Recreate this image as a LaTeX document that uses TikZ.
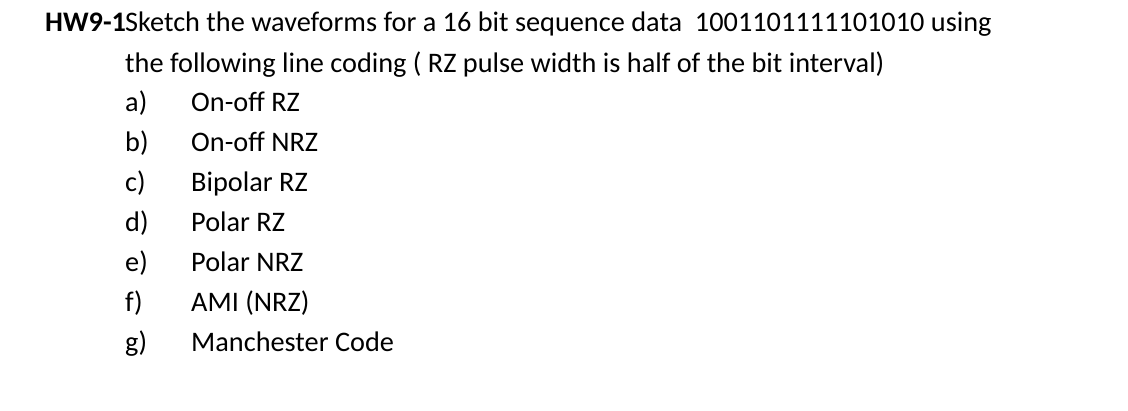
\documentclass[tikz,border=0pt]{standalone}
\usepackage{fontspec}
\setmainfont{Carlito}
\begin{document}
\begin{tikzpicture}[x=1pt,y=-1pt,txt/.style={anchor=base west,inner sep=0pt,font=\fontsize{28.3}{32}\selectfont}]
\useasboundingbox[fill=white] (0,0) rectangle (1128,411);
\node[txt] (hw) at (45,32) {\textbf{HW9-1}};
\node[txt] (l1) at (125,32) {Sketch the waveforms for a 16 bit sequence data\ \ 1001101111101010 using};
\node[txt] (l2) at (125,73) {the following line coding ( RZ pulse width is half of the bit interval)};
\foreach \l/\t [count=\i] in {a)/On-off RZ,b)/On-off NRZ,c)/Bipolar RZ,d)/Polar RZ,e)/Polar NRZ,f)/AMI (NRZ),g)/Manchester Code}{
  \node[txt] (k\i) at (125,{72+40*\i}) {\l};
  \node[txt] (t\i) at (191,{72+40*\i}) {\t};
}
\end{tikzpicture}
\end{document}
